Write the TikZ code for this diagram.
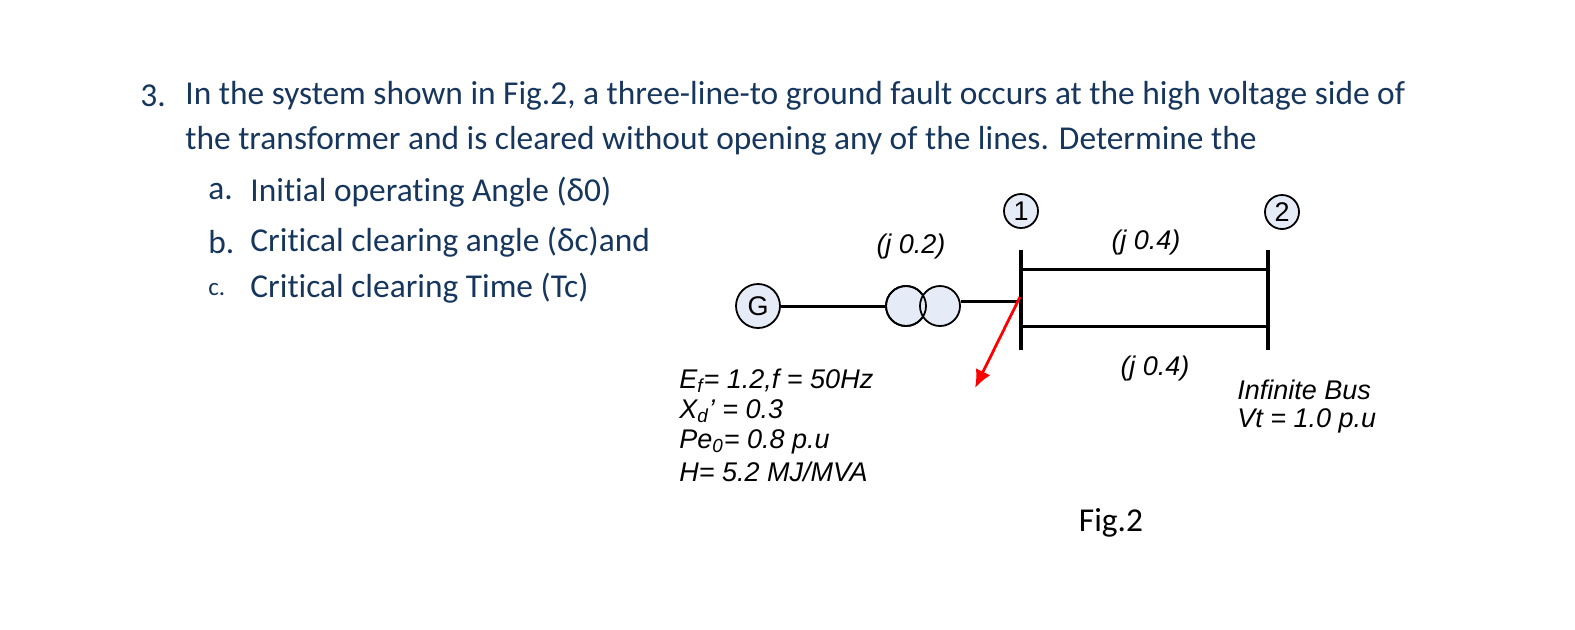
\documentclass[tikz,border=0pt]{standalone}
\usepackage{fontspec}
\usetikzlibrary{arrows.meta}
\setmainfont[Ligatures=NoCommon]{Carlito}
\newfontfamily\arialf{Liberation Sans}
\definecolor{navy}{HTML}{17365D}
\definecolor{fillc}{HTML}{E6ECF7}
\begin{document}
\begin{tikzpicture}[x=0.5pt,y=-0.5pt,
  body/.style={font=\fontsize{16.7pt}{19pt}\selectfont,text=navy,anchor=west,inner sep=0},
  lab/.style={font=\arialf\itshape\fontsize{13.5pt}{15pt}\selectfont,inner sep=0},
  circ/.style={draw,line width=0.9pt,fill=fillc,circle,inner sep=0},
  wire/.style={line width=1.5pt},
  bus/.style={line width=2.2pt}]
\useasboundingbox (0,0) rectangle (1575,629);
\node[body] (n3) at (140,96) {3.};
\node[body] (l1) at (185,96) {In the system shown in Fig.2, a three-line-to ground fault occurs at the high voltage side of};
\node[body] (l2) at (185,141) {the transformer and is cleared without opening any of the lines. Determine the};
\node[body] (ia) at (208,192) {a.};
\node[body] (ta) at (250,192) {Initial operating Angle (δ0)};
\node[body] (ib) at (208,242) {b.};
\node[body] (tb) at (250,242) {Critical clearing angle (δc)and};
\node[body,font=\fontsize{12.5pt}{14pt}\selectfont] (ic) at (208,290) {c.};
\node[body] (tc) at (250,288) {Critical clearing Time (Tc)};
% diagram
\node[circ,minimum size=22pt] (G) at (758,306) {\arialf\fontsize{13.5pt}{15pt}\selectfont G};
\node[circ,minimum size=20pt] (T1) at (906,306) {};
\node[circ,minimum size=20pt] (T2) at (940,306) {};
\draw[line width=0.9pt] (T1) circle (20);
\coordinate (b1t) at (1021,250); \coordinate (b1b) at (1021,350);
\coordinate (b2t) at (1268,250); \coordinate (b2b) at (1268,350);
\draw[bus] (b1t) -- (b1b);
\draw[bus] (b2t) -- (b2b);
\draw[wire] (G.east) -- (T1.west);
\coordinate (tin) at (1017,301);
\draw[wire] (T2.east|-tin) -- (tin);
\coordinate (l1a) at (1021,269); \coordinate (l1b) at (1268,269);
\coordinate (l2a) at (1021,326); \coordinate (l2b) at (1268,326);
\draw[wire] (l1a) -- (l1b);
\draw[wire] (l2a) -- (l2b);
\node[circ,minimum size=17pt] (B1) at (1021,211) {\arialf\fontsize{13.5pt}{15pt}\selectfont 1};
\node[circ,minimum size=17pt] (B2) at (1282,212) {\arialf\fontsize{13.5pt}{15pt}\selectfont 2};
\coordinate (fs) at (1020,297); \coordinate (fe) at (975,388);
\draw[red,line width=1.4pt,-{Latex[length=9pt,width=8pt]}] (fs) -- (fe);
\node[lab] (x1) at (911,247) {(j 0.2)};
\node[lab] (x2) at (1146,243) {(j 0.4)};
\node[lab] (x3) at (1155,369) {(j 0.4)};
\node[lab,anchor=west] (p1) at (679,381) {E\textsubscript{f}= 1.2,f = 50Hz};
\node[lab,anchor=west] (p2) at (679,411) {X\textsubscript{d}’ = 0.3};
\node[lab,anchor=west] (p3) at (679,442) {Pe\textsubscript{0}= 0.8 p.u};
\node[lab,anchor=west] (p4) at (679,472) {H= 5.2 MJ/MVA};
\node[lab,anchor=west] (ib1) at (1237,390) {Infinite Bus};
\node[lab,anchor=west] (ib2) at (1237,421) {Vt = 1.0 p.u};
\node[inner sep=0,font=\fontsize{16.7pt}{19pt}\selectfont] (fig) at (1111,523) {Fig.2};
\end{tikzpicture}
\end{document}
